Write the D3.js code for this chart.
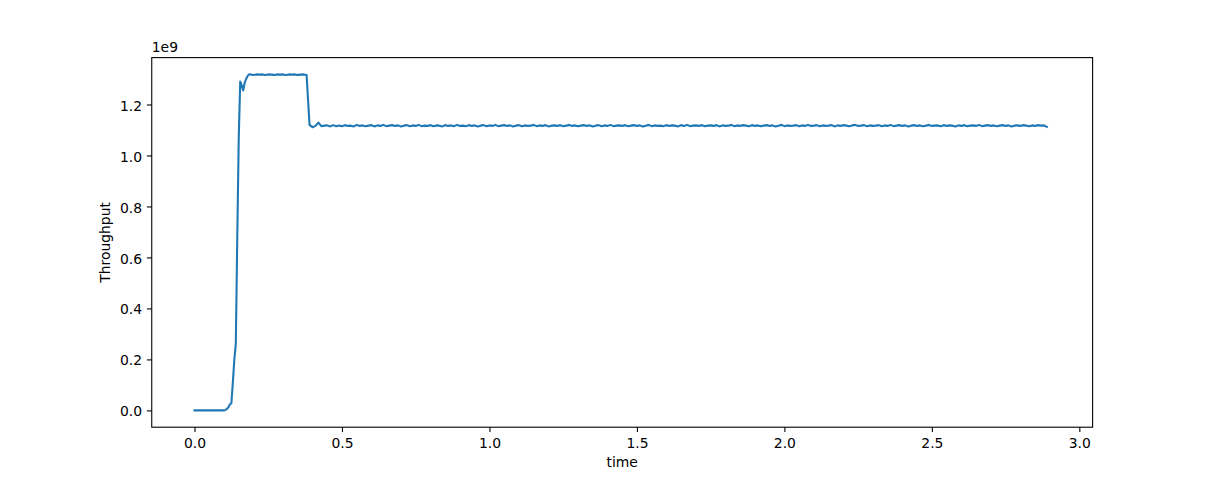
<!DOCTYPE html>
<html>
<head>
<meta charset="utf-8">
<script src="https://cdn.jsdelivr.net/npm/d3@7"></script>
<style>
    body { margin: 0; background: #fff; }
    svg { display: block; font-family: "DejaVu Sans", sans-serif; }
</style>
</head>
<body>
<div class="chart"></div>
<script>
// sample times (s)
const time = [
    0.00, 0.01, 0.02, 0.03, 0.04, 0.05, 0.06, 0.07, 0.08, 0.09, 0.10,
    0.105, 0.11, 0.115, 0.12, 0.125, 0.13, 0.135, 0.14, 0.145, 0.15,
    0.155, 0.16, 0.165, 0.17, 0.175, 0.18, 0.185,
    0.19, 0.20, 0.21, 0.22, 0.23, 0.24, 0.25, 0.26, 0.27, 0.28, 0.29,
    0.30, 0.31, 0.32, 0.33, 0.34, 0.35, 0.36, 0.37, 0.38, 0.39,
    0.40, 0.41, 0.42, 0.43, 0.44, 0.45, 0.46, 0.47, 0.48, 0.49,
    0.50, 0.51, 0.52, 0.53, 0.54, 0.55, 0.56, 0.57, 0.58, 0.59,
    0.60, 0.61, 0.62, 0.63, 0.64, 0.65, 0.66, 0.67, 0.68, 0.69,
    0.70, 0.71, 0.72, 0.73, 0.74, 0.75, 0.76, 0.77, 0.78, 0.79,
    0.80, 0.81, 0.82, 0.83, 0.84, 0.85, 0.86, 0.87, 0.88, 0.89,
    0.90, 0.91, 0.92, 0.93, 0.94, 0.95, 0.96, 0.97, 0.98, 0.99,
    1.00, 1.01, 1.02, 1.03, 1.04, 1.05, 1.06, 1.07, 1.08, 1.09,
    1.10, 1.11, 1.12, 1.13, 1.14, 1.15, 1.16, 1.17, 1.18, 1.19,
    1.20, 1.21, 1.22, 1.23, 1.24, 1.25, 1.26, 1.27, 1.28, 1.29,
    1.30, 1.31, 1.32, 1.33, 1.34, 1.35, 1.36, 1.37, 1.38, 1.39,
    1.40, 1.41, 1.42, 1.43, 1.44, 1.45, 1.46, 1.47, 1.48, 1.49,
    1.50, 1.51, 1.52, 1.53, 1.54, 1.55, 1.56, 1.57, 1.58, 1.59,
    1.60, 1.61, 1.62, 1.63, 1.64, 1.65, 1.66, 1.67, 1.68, 1.69,
    1.70, 1.71, 1.72, 1.73, 1.74, 1.75, 1.76, 1.77, 1.78, 1.79,
    1.80, 1.81, 1.82, 1.83, 1.84, 1.85, 1.86, 1.87, 1.88, 1.89,
    1.90, 1.91, 1.92, 1.93, 1.94, 1.95, 1.96, 1.97, 1.98, 1.99,
    2.00, 2.01, 2.02, 2.03, 2.04, 2.05, 2.06, 2.07, 2.08, 2.09,
    2.10, 2.11, 2.12, 2.13, 2.14, 2.15, 2.16, 2.17, 2.18, 2.19,
    2.20, 2.21, 2.22, 2.23, 2.24, 2.25, 2.26, 2.27, 2.28, 2.29,
    2.30, 2.31, 2.32, 2.33, 2.34, 2.35, 2.36, 2.37, 2.38, 2.39,
    2.40, 2.41, 2.42, 2.43, 2.44, 2.45, 2.46, 2.47, 2.48, 2.49,
    2.50, 2.51, 2.52, 2.53, 2.54, 2.55, 2.56, 2.57, 2.58, 2.59,
    2.60, 2.61, 2.62, 2.63, 2.64, 2.65, 2.66, 2.67, 2.68, 2.69,
    2.70, 2.71, 2.72, 2.73, 2.74, 2.75, 2.76, 2.77, 2.78, 2.79,
    2.80, 2.81, 2.82, 2.83, 2.84, 2.85, 2.86, 2.87, 2.88, 2.89,
    2.90
];

// throughput in units of 1e9
const throughput = [
    0, 0, 0, 0, 0, 0, 0, 0, 0, 0, 0,
    0.002, 0.006, 0.012, 0.024, 0.028, 0.11, 0.20, 0.26, 0.68, 1.07,
    1.29, 1.275, 1.255, 1.285, 1.300, 1.312, 1.318,
    1.318, 1.316, 1.318, 1.317, 1.318, 1.316, 1.318, 1.317, 1.316, 1.318,
    1.317, 1.318, 1.316, 1.318, 1.317, 1.318, 1.316, 1.317, 1.318, 1.316,
    1.120, 1.111, 1.116, 1.129, 1.115, 1.117, 1.118, 1.114, 1.119, 1.115,
    1.118, 1.115, 1.119, 1.116, 1.117, 1.114, 1.120, 1.116, 1.118, 1.115,
    1.117, 1.119, 1.114, 1.118, 1.116, 1.120, 1.115, 1.117, 1.119, 1.116,
    1.118, 1.114, 1.117, 1.119, 1.115, 1.118, 1.116, 1.120, 1.115, 1.117,
    1.116, 1.119, 1.115, 1.118, 1.117, 1.114, 1.119, 1.116, 1.118, 1.115,
    1.120, 1.116, 1.117, 1.115, 1.119, 1.116, 1.118, 1.114, 1.117, 1.119,
    1.115, 1.118, 1.116, 1.120, 1.115, 1.117, 1.119, 1.116, 1.118, 1.114,
    1.117, 1.119, 1.115, 1.118, 1.116, 1.117, 1.120, 1.115, 1.118, 1.116,
    1.119, 1.114, 1.117, 1.118, 1.116, 1.119, 1.115, 1.117, 1.120, 1.116,
    1.118, 1.115, 1.117, 1.119, 1.116, 1.118, 1.114, 1.117, 1.119, 1.115,
    1.118, 1.116, 1.120, 1.115, 1.117, 1.118, 1.116, 1.119, 1.115, 1.117,
    1.119, 1.116, 1.118, 1.114, 1.117, 1.120, 1.115, 1.118, 1.116, 1.117,
    1.115, 1.119, 1.116, 1.118, 1.117, 1.114, 1.119, 1.116, 1.120, 1.115,
    1.117, 1.118, 1.116, 1.119, 1.115, 1.117, 1.118, 1.116, 1.119, 1.114,
    1.118, 1.116, 1.117, 1.120, 1.115, 1.118, 1.116, 1.119, 1.117, 1.115,
    1.119, 1.116, 1.118, 1.115, 1.117, 1.119, 1.116, 1.118, 1.114, 1.117,
    1.120, 1.115, 1.118, 1.116, 1.117, 1.119, 1.115, 1.118, 1.116, 1.120,
    1.116, 1.117, 1.119, 1.115, 1.118, 1.116, 1.117, 1.119, 1.114, 1.118,
    1.116, 1.119, 1.117, 1.115, 1.118, 1.120, 1.116, 1.117, 1.119, 1.115,
    1.118, 1.116, 1.117, 1.119, 1.115, 1.118, 1.116, 1.120, 1.115, 1.117,
    1.119, 1.116, 1.118, 1.114, 1.117, 1.119, 1.116, 1.118, 1.115, 1.117,
    1.120, 1.116, 1.117, 1.118, 1.115, 1.119, 1.116, 1.118, 1.117, 1.114,
    1.118, 1.116, 1.119, 1.115, 1.117, 1.118, 1.116, 1.120, 1.115, 1.117,
    1.119, 1.116, 1.118, 1.115, 1.117, 1.119, 1.116, 1.118, 1.114, 1.117,
    1.118, 1.116, 1.119, 1.117, 1.115, 1.118, 1.116, 1.119, 1.117, 1.118,
    1.112
];

const xTicks = [0.0, 0.5, 1.0, 1.5, 2.0, 2.5, 3.0];
const yTicks = [0.0, 0.2, 0.4, 0.6, 0.8, 1.0, 1.2];

const fullWidth = 1214;
const fullHeight = 480;
const margin = {
    top: 57.6,
    right: 121.4,
    bottom: 52.8,
    left: 151.75
};
const width = fullWidth - margin.left - margin.right;
const height = fullHeight - margin.top - margin.bottom;
const fontSize = 13.9;
const tickLen = 4.86;

const data = time.map((t, i) => ({ t: t, v: throughput[i] }));

const svg = d3.select('.chart')
    .append('svg')
        .attr('width', fullWidth)
        .attr('height', fullHeight);

const chart = svg.append('g')
    .attr('transform', `translate(${margin.left}, ${margin.top})`);

// matplotlib-style 5% padding on both axes
const xExt = d3.extent(time);
const xPad = (xExt[1] - xExt[0]) * 0.05;
const xScale = d3.scaleLinear()
    .domain([xExt[0] - xPad, xExt[1] + xPad])
    .range([0, width]);

const yExt = d3.extent(throughput);
const yPad = (yExt[1] - yExt[0]) * 0.05;
const yScale = d3.scaleLinear()
    .domain([yExt[0] - yPad, yExt[1] + yPad])
    .range([height, 0]);

const xAxis = d3.axisBottom(xScale)
    .tickValues(xTicks)
    .tickFormat(d3.format('.1f'))
    .tickSizeInner(tickLen)
    .tickSizeOuter(0)
    .tickPadding(tickLen);

const yAxis = d3.axisLeft(yScale)
    .tickValues(yTicks)
    .tickFormat(d3.format('.1f'))
    .tickSizeInner(tickLen)
    .tickSizeOuter(0)
    .tickPadding(tickLen);

const gx = chart.append('g')
    .attr('transform', `translate(0, ${height})`)
    .call(xAxis);
gx.select('.domain').remove();
gx.selectAll('text')
    .attr('y', tickLen * 2 + 1.5)
    .attr('dy', '0.71em');

const gy = chart.append('g')
    .call(yAxis);
gy.select('.domain').remove();
gy.selectAll('text')
    .attr('dy', '0.4em');

chart.selectAll('.tick line')
    .attr('stroke', '#000')
    .attr('stroke-width', 1.1);
chart.selectAll('.tick text')
    .attr('fill', '#000')
    .style('font-family', '"DejaVu Sans", sans-serif')
    .style('font-size', fontSize + 'px');

const line = d3.line()
    .x(d => xScale(d.t))
    .y(d => yScale(d.v));

chart.append('path')
    .datum(data)
    .attr('d', line)
    .attr('fill', 'none')
    .attr('stroke', '#1f77b4')
    .attr('stroke-width', 2.08)
    .attr('stroke-linejoin', 'round')
    .attr('stroke-linecap', 'square');

// axes frame
chart.append('rect')
    .attr('width', width)
    .attr('height', height)
    .attr('fill', 'none')
    .attr('stroke', '#000')
    .attr('stroke-width', 1.1);

chart.append('text')
    .attr('x', width / 2)
    .attr('y', height + 40)
    .attr('text-anchor', 'middle')
    .style('font-size', fontSize + 'px')
    .text('time');

chart.append('text')
    .attr('transform', `translate(-42, ${height / 2}) rotate(-90)`)
    .attr('text-anchor', 'middle')
    .style('font-size', fontSize + 'px')
    .text('Throughput');

chart.append('text')
    .attr('x', 0)
    .attr('y', -5.5)
    .style('font-size', fontSize + 'px')
    .text('1e9');
</script>
</body>
</html>
